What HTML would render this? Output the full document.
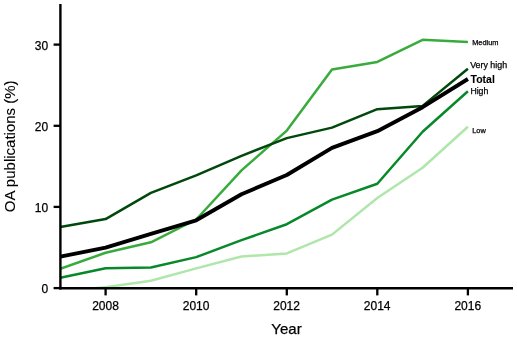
<!DOCTYPE html>
<html><head><meta charset="utf-8"><style>
html,body{margin:0;padding:0;background:#fff;}
svg{display:block}
text{font-family:"Liberation Sans",Arial,sans-serif;fill:#000;stroke:#000;stroke-width:0.25px}
</style></head><body>
<svg width="517" height="338" viewBox="0 0 517 338">
<rect width="517" height="338" fill="#fff"/>
<clipPath id="c"><rect x="60" y="0" width="457" height="288.5"/></clipPath>
<g clip-path="url(#c)">
<polyline points="60.3,291.4 105.6,287.3 150.9,280.8 196.2,268.4 241.5,256.5 286.8,253.4 332.0,234.6 377.3,198.0 422.6,167.7 467.9,126.8" fill="none" stroke="#afe6aa" stroke-width="2.5" stroke-linejoin="round"/>
<polyline points="60.3,277.7 105.6,268.2 150.9,267.5 196.2,257.1 241.5,240.2 286.8,224.2 332.0,199.6 377.3,183.8 422.6,131.7 467.9,91.2" fill="none" stroke="#07892a" stroke-width="2.5" stroke-linejoin="round"/>
<polyline points="60.3,268.7 105.6,252.8 150.9,242.3 196.2,219.5 241.5,170.4 286.8,130.6 332.0,69.5 377.3,61.9 422.6,39.8 467.9,42.0" fill="none" stroke="#38ab3c" stroke-width="2.5" stroke-linejoin="round"/>
<polyline points="60.3,227.0 105.6,219.1 150.9,192.9 196.2,175.3 241.5,155.8 286.8,138.1 332.0,127.6 377.3,109.2 422.6,105.9 467.9,68.7" fill="none" stroke="#00480c" stroke-width="2.5" stroke-linejoin="round"/>
<polyline points="60.3,256.6 105.6,247.6 150.9,233.9 196.2,220.3 241.5,194.3 286.8,175.0 332.0,147.8 377.3,131.2 422.6,107.2 467.9,79.0" fill="none" stroke="#000000" stroke-width="3.9" stroke-linejoin="round"/>
</g>
<line x1="60.4" y1="4" x2="60.4" y2="289.4" stroke="#000" stroke-width="2.4"/>
<line x1="59.2" y1="288.15" x2="513" y2="288.15" stroke="#000" stroke-width="2.5"/>
<line x1="105.6" y1="288" x2="105.6" y2="295.4" stroke="#000" stroke-width="2.3"/><text x="105.5" y="309.6" text-anchor="middle" font-size="12">2008</text><line x1="196.2" y1="288" x2="196.2" y2="295.4" stroke="#000" stroke-width="2.3"/><text x="196.1" y="309.6" text-anchor="middle" font-size="12">2010</text><line x1="286.8" y1="288" x2="286.8" y2="295.4" stroke="#000" stroke-width="2.3"/><text x="286.6" y="309.6" text-anchor="middle" font-size="12">2012</text><line x1="377.3" y1="288" x2="377.3" y2="295.4" stroke="#000" stroke-width="2.3"/><text x="377.2" y="309.6" text-anchor="middle" font-size="12">2014</text><line x1="467.9" y1="288" x2="467.9" y2="295.4" stroke="#000" stroke-width="2.3"/><text x="467.8" y="309.6" text-anchor="middle" font-size="12">2016</text>
<line x1="53.6" y1="288.1" x2="60" y2="288.1" stroke="#000" stroke-width="2.3"/><text x="48.2" y="293.0" text-anchor="end" font-size="12">0</text><line x1="53.6" y1="206.9" x2="60" y2="206.9" stroke="#000" stroke-width="2.3"/><text x="48.2" y="211.8" text-anchor="end" font-size="12">10</text><line x1="53.6" y1="125.8" x2="60" y2="125.8" stroke="#000" stroke-width="2.3"/><text x="48.2" y="130.7" text-anchor="end" font-size="12">20</text><line x1="53.6" y1="44.6" x2="60" y2="44.6" stroke="#000" stroke-width="2.3"/><text x="48.2" y="49.5" text-anchor="end" font-size="12">30</text>
<text x="286.5" y="333.6" text-anchor="middle" font-size="15">Year</text>
<text transform="translate(14.9,146.3) rotate(-90)" text-anchor="middle" font-size="15" style="stroke-width:0.1px">OA publications (%)</text>
<text x="472.2" y="44.6" font-size="7.4">Medium</text>
<text x="470.2" y="68" font-size="8.85">Very high</text>
<text x="470.5" y="83.1" font-size="10.5" font-weight="bold" style="stroke-width:0.1px">Total</text>
<text x="470.4" y="94.3" font-size="8.7">High</text>
<text x="472.2" y="133.3" font-size="7.4">Low</text>
</svg>
</body></html>
